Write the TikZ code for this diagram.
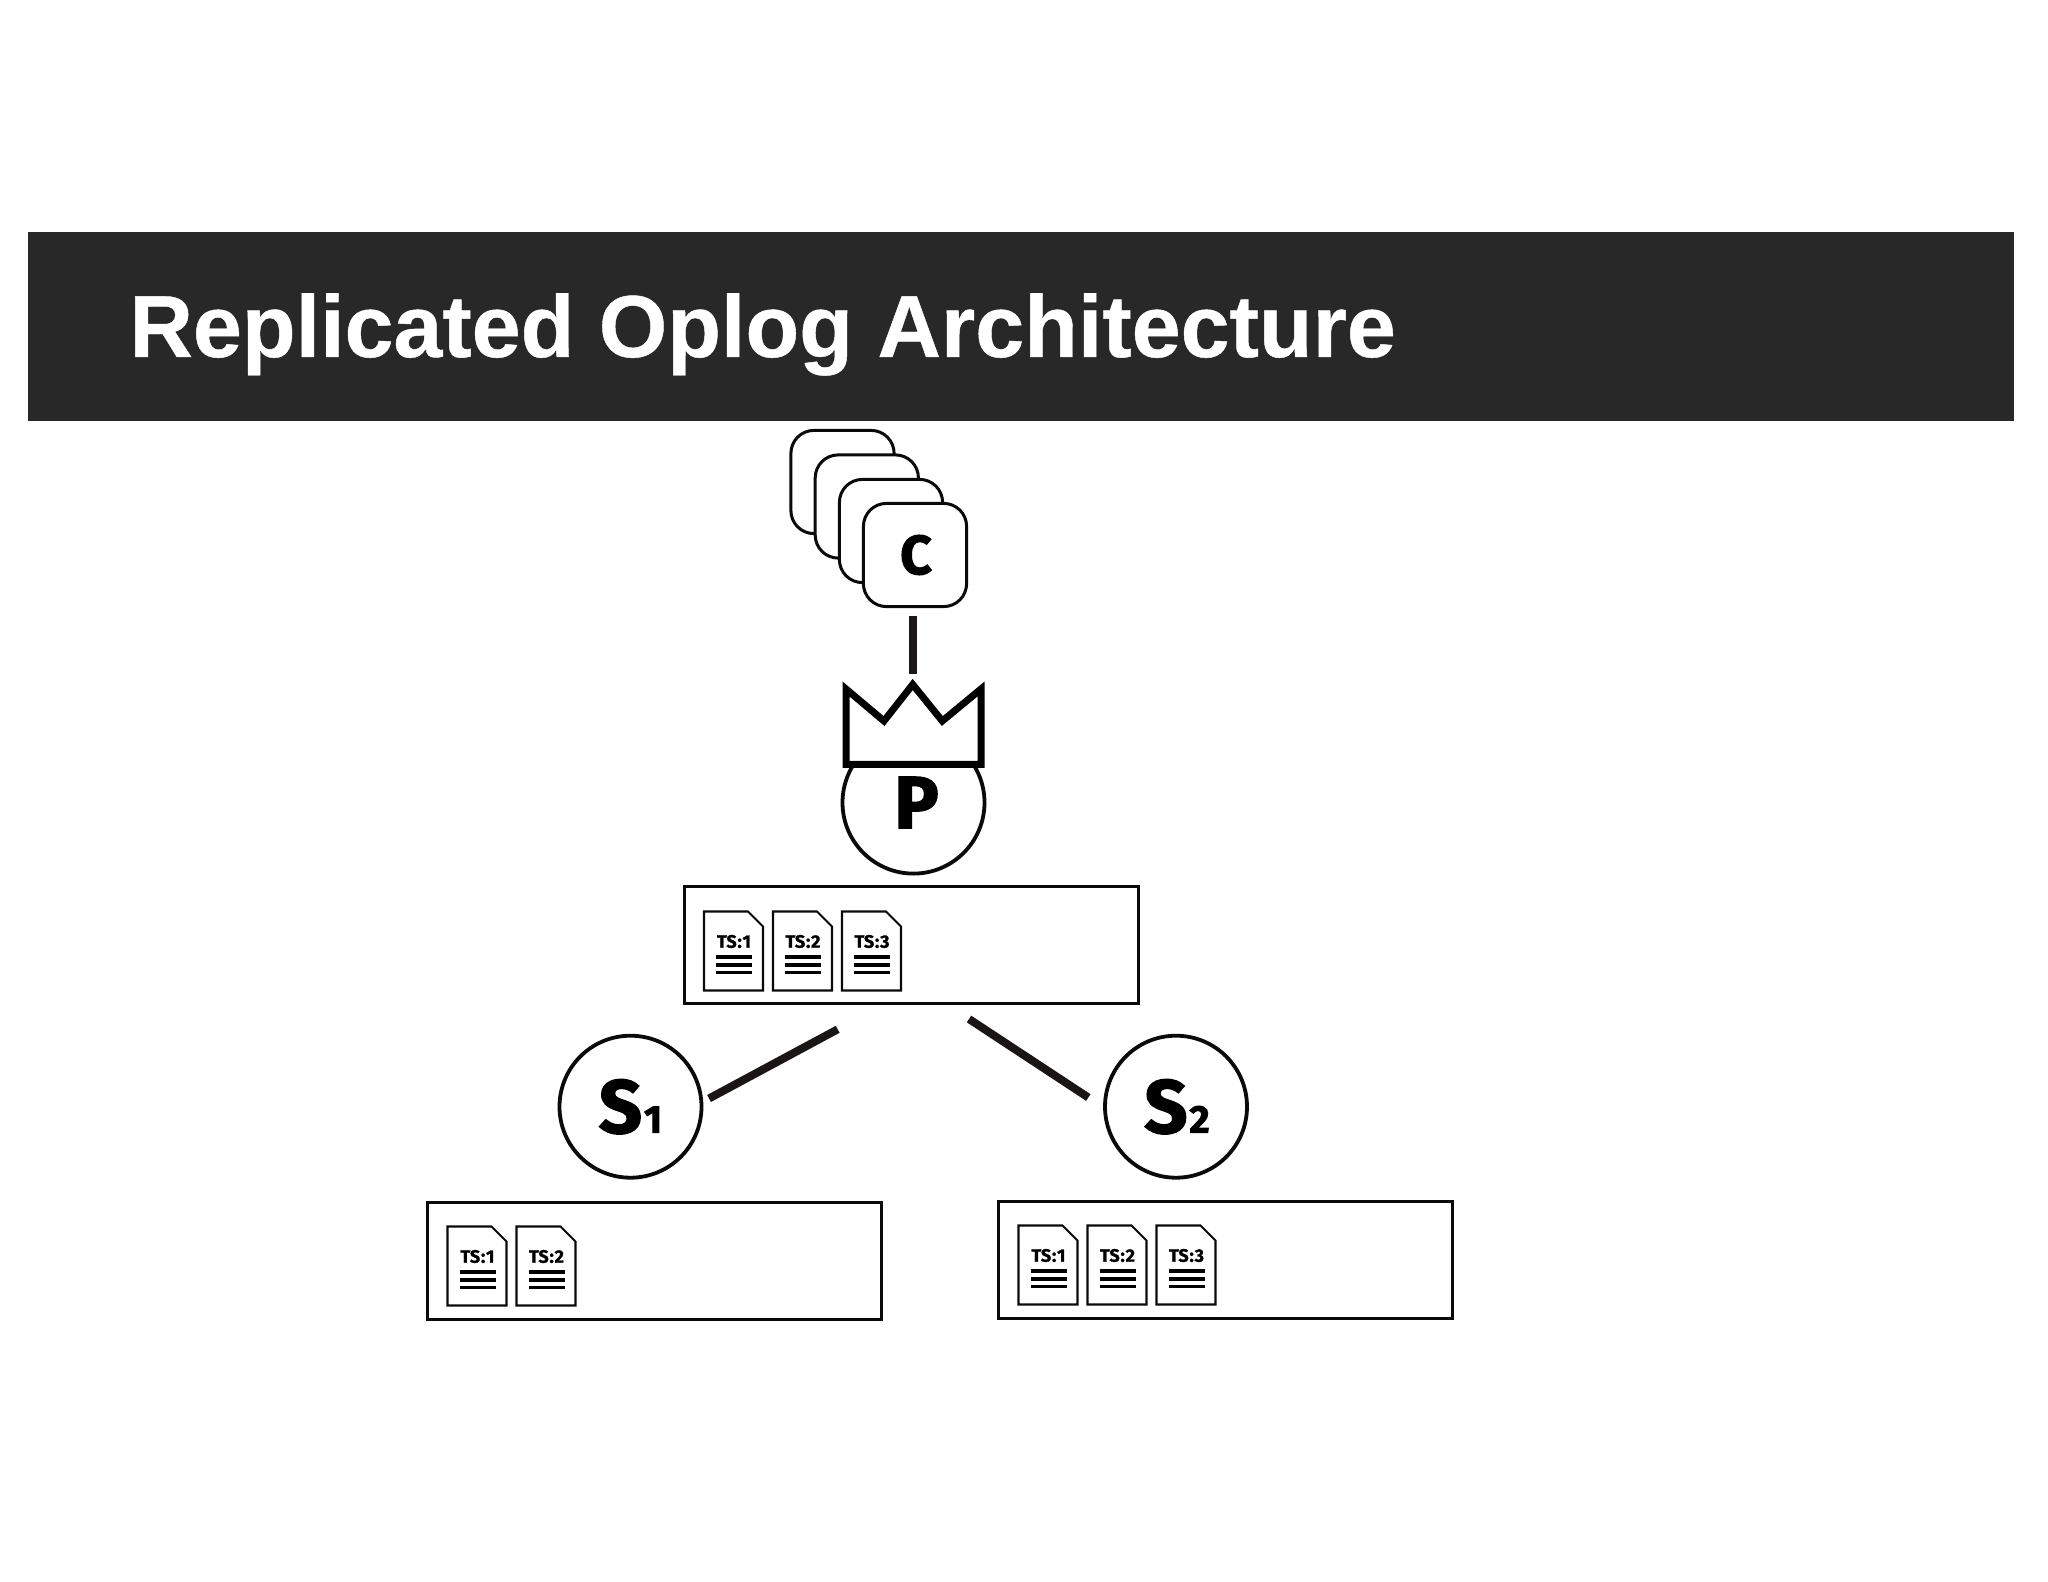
\documentclass[tikz,border=0pt]{standalone}
\usepackage{fontspec}
\setmainfont{Liberation Sans}
\newfontfamily\titlefont[FakeBold=0.5]{Liberation Sans Bold}
\newfontfamily\heavyfont[FakeBold=2]{Fira Sans Bold}
\newfontfamily\smallheavy[FakeBold=1.2]{Fira Sans Bold}
\definecolor{banner}{HTML}{282828}
\definecolor{ink}{HTML}{0A0A0A}
\definecolor{bar}{HTML}{1A1616}
\tikzset{
  x=0.5pt,y=-0.5pt,
  cardbox/.style={draw=ink,fill=white,line width=1.5pt,rounded corners=11.5pt,minimum width=51.6pt,minimum height=51.6pt,inner sep=0pt,font=\heavyfont\fontsize{27.5}{27.5}\selectfont},
  serverbox/.style={circle,draw=ink,fill=white,line width=1.9pt,minimum size=71pt,inner sep=0pt,text=black},
  logbox/.style={draw=ink,line width=1.5pt,fill=white,minimum width=227pt,minimum height=58.5pt,inner sep=0pt},
  conn/.style={draw=bar,line width=4pt},
  docpath/.style={draw=ink,fill=white,line width=1.05pt,line join=miter},
  tsbars/.style={draw=black,line width=1.95pt},
  tstext/.style={inner sep=0pt,font=\smallheavy\fontsize{9}{9}\selectfont},
}
% #1 name, #2 left x, #3 top y, #4 number after the colon
\newcommand{\logdoc}[4]{%
  \coordinate (#1) at (#2,#3);
  \draw[docpath] (#1) -- ++(44,0) -- ++(15,15) -- ++(0,64) -- ++(-59,0) -- cycle;
  \node[tstext] (#1t) at ([shift={(30,30)}]#1) {TS\kern.4pt:\kern.4pt#4};
  \draw[tsbars] ([shift={(12,45.3)}]#1) -- ++(36,0);
  \draw[tsbars] ([shift={(12,53.2)}]#1) -- ++(36,0);
  \draw[tsbars] ([shift={(12,61)}]#1) -- ++(36,0);
}
\begin{document}
\begin{tikzpicture}
\useasboundingbox (0,0) rectangle (2048,1582);
\fill[white] (0,0) rectangle (2048,1582);
% banner
\node[fill=banner,minimum width=993pt,minimum height=94.4pt,inner sep=0pt,anchor=north west] (bar) at (28,232) {};
\node[anchor=base west,inner sep=0pt,text=white,font=\titlefont\fontsize{44}{44}\selectfont] (title) at (129,357) {Replicated Oplog Architecture};
% clients
\node[cardbox] (c1) at (842.5,482) {};
\node[cardbox] (c2) at (866.8,506.5) {};
\node[cardbox] (c3) at (891,531) {};
\node[cardbox] (c4) at (915,555) {\hspace*{1pt}C};
% primary
\node[serverbox,font=\heavyfont\fontsize{37}{37}\selectfont] (P) at (913.5,802.6) {\hspace*{3pt}\raisebox{-1.5pt}{P}};
\coordinate (crownpeak) at (912.7,684.5);
\draw[draw=black,fill=white,line width=3.5pt,line join=miter,miter limit=10]
  (846,689) -- (884,721) -- (crownpeak) -- (942.3,721) -- (981,689) -- (981,764.4) -- (846,764.4) -- cycle;
\draw[conn,shorten <=3.75pt,shorten >=5.4pt] (c4.south -| crownpeak) -- (crownpeak);
% logs
\node[logbox] (plog) at (911,945.4) {};
\logdoc{pd1}{704}{911.5}{1}
\logdoc{pd2}{773}{911.5}{2}
\logdoc{pd3}{842}{911.5}{3}
% secondaries
\node[serverbox] (S1) at (630.5,1106.7) {\heavyfont\fontsize{37.7}{37.7}\selectfont S\kern1pt{\fontsize{19.5}{19.5}\selectfont 1}};
\node[serverbox] (S2) at (1176,1106.7) {\hspace*{1pt}\heavyfont\fontsize{37.7}{37.7}\selectfont S\kern1pt{\fontsize{19.5}{19.5}\selectfont 2}};
\coordinate (s1top) at (837.7,1029.3);
\coordinate (s2top) at (969,1019);
\draw[conn,shorten <=3.3pt] (S1.4) -- (s1top);
\coordinate (s2end) at (1088.3,1097.5);
\draw[conn] (s2end) -- (s2top);
\node[logbox] (s1log) at (654.7,1260.8) {};
\logdoc{ad1}{447.5}{1226.5}{1}
\logdoc{ad2}{516.5}{1226.5}{2}
\node[logbox] (s2log) at (1225.3,1259.5) {};
\logdoc{bd1}{1018.5}{1225.5}{1}
\logdoc{bd2}{1087.5}{1225.5}{2}
\logdoc{bd3}{1156.5}{1225.5}{3}
\end{tikzpicture}
\end{document}
